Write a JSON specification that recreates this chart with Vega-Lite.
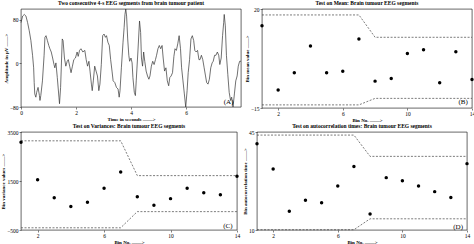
{
  "$schema": "https://vega.github.io/schema/vega-lite/v6.json",
  "padding": 0,
  "background": "white",
  "config": {
    "font": "Liberation Serif",
    "view": {"stroke": "black", "strokeWidth": 0.6},
    "title": {"fontSize": 5.5, "fontWeight": "bold", "offset": 1, "font": "Liberation Serif", "color": "black"},
    "axis": {"labelFontSize": 5.5, "titleFontSize": 5, "titleFontWeight": "bold", "titlePadding": 1, "labelPadding": 1, "tickSize": 2, "tickColor": "black", "tickWidth": 0.5, "domain": false, "grid": false, "labelColor": "black", "titleColor": "black", "labelFont": "Liberation Serif", "titleFont": "Liberation Serif", "labelOverlap": false, "labelFlush": false, "labelBound": false, "labelSeparation": 0},
    "axisX": {"labelOverlap": false},
    "axisY": {"labelOverlap": false},
    "axisQuantitative": {"labelOverlap": false}
  },
  "datasets": {
    "eeg": [
      {"t":0.00,"v":75},{"t":0.06,"v":87},{"t":0.12,"v":90},{"t":0.18,"v":87},{"t":0.24,"v":75},{"t":0.30,"v":60},{"t":0.36,"v":42},{"t":0.42,"v":15},{"t":0.46,"v":-8},{"t":0.48,"v":-35},{"t":0.50,"v":-56},{"t":0.54,"v":-62},{"t":0.57,"v":-53},{"t":0.62,"v":-44},{"t":0.67,"v":-59},{"t":0.69,"v":-68},{"t":0.72,"v":-59},{"t":0.78,"v":-32},{"t":0.84,"v":15},{"t":0.87,"v":48},{"t":0.91,"v":51},{"t":0.96,"v":42},{"t":1.01,"v":33},{"t":1.05,"v":27},{"t":1.10,"v":21},{"t":1.15,"v":10},{"t":1.20,"v":-2},{"t":1.23,"v":-8},{"t":1.27,"v":1},{"t":1.32,"v":-26},{"t":1.38,"v":-62},{"t":1.40,"v":-74},{"t":1.44,"v":-44},{"t":1.50,"v":45},{"t":1.53,"v":42},{"t":1.58,"v":10},{"t":1.63,"v":-5},{"t":1.68,"v":4},{"t":1.72,"v":7},{"t":1.77,"v":-5},{"t":1.82,"v":-17},{"t":1.87,"v":-5},{"t":1.92,"v":7},{"t":1.98,"v":10},{"t":2.04,"v":21},{"t":2.08,"v":13},{"t":2.13,"v":24},{"t":2.18,"v":27},{"t":2.25,"v":21},{"t":2.32,"v":24},{"t":2.37,"v":7},{"t":2.42,"v":-5},{"t":2.47,"v":4},{"t":2.51,"v":-14},{"t":2.56,"v":-38},{"t":2.59,"v":-50},{"t":2.63,"v":-32},{"t":2.68,"v":-5},{"t":2.73,"v":-14},{"t":2.78,"v":-23},{"t":2.83,"v":-50},{"t":2.87,"v":-38},{"t":2.92,"v":-2},{"t":2.97,"v":51},{"t":3.02,"v":54},{"t":3.07,"v":48},{"t":3.11,"v":51},{"t":3.16,"v":39},{"t":3.21,"v":33},{"t":3.26,"v":7},{"t":3.31,"v":-14},{"t":3.35,"v":-32},{"t":3.41,"v":-35},{"t":3.47,"v":-44},{"t":3.53,"v":-47},{"t":3.57,"v":-62},{"t":3.60,"v":-50},{"t":3.65,"v":-8},{"t":3.71,"v":39},{"t":3.75,"v":66},{"t":3.78,"v":90},{"t":3.81,"v":100},{"t":3.84,"v":87},{"t":3.88,"v":45},{"t":3.92,"v":15},{"t":3.95,"v":4},{"t":4.00,"v":10},{"t":4.04,"v":1},{"t":4.07,"v":-26},{"t":4.12,"v":-53},{"t":4.16,"v":-59},{"t":4.19,"v":-32},{"t":4.25,"v":21},{"t":4.31,"v":78},{"t":4.35,"v":57},{"t":4.38,"v":10},{"t":4.42,"v":-5},{"t":4.46,"v":21},{"t":4.50,"v":4},{"t":4.55,"v":-14},{"t":4.60,"v":-23},{"t":4.65,"v":-29},{"t":4.69,"v":-23},{"t":4.74,"v":-5},{"t":4.79,"v":4},{"t":4.84,"v":-2},{"t":4.89,"v":7},{"t":4.93,"v":15},{"t":4.98,"v":27},{"t":5.03,"v":33},{"t":5.08,"v":27},{"t":5.13,"v":33},{"t":5.17,"v":10},{"t":5.22,"v":-14},{"t":5.27,"v":-8},{"t":5.32,"v":-32},{"t":5.37,"v":-41},{"t":5.41,"v":-26},{"t":5.46,"v":-23},{"t":5.51,"v":-17},{"t":5.56,"v":13},{"t":5.60,"v":27},{"t":5.65,"v":24},{"t":5.70,"v":36},{"t":5.75,"v":51},{"t":5.80,"v":27},{"t":5.84,"v":-8},{"t":5.89,"v":-32},{"t":5.94,"v":-56},{"t":5.99,"v":-80},{"t":6.04,"v":-50},{"t":6.08,"v":-17},{"t":6.13,"v":7},{"t":6.18,"v":45},{"t":6.23,"v":51},{"t":6.28,"v":42},{"t":6.32,"v":24},{"t":6.37,"v":21},{"t":6.42,"v":24},{"t":6.47,"v":7},{"t":6.51,"v":7},{"t":6.56,"v":15},{"t":6.61,"v":7},{"t":6.66,"v":-8},{"t":6.71,"v":-23},{"t":6.75,"v":-35},{"t":6.80,"v":-38},{"t":6.85,"v":-29},{"t":6.90,"v":-8},{"t":6.95,"v":1},{"t":6.99,"v":4},{"t":7.04,"v":15},{"t":7.09,"v":15},{"t":7.14,"v":21},{"t":7.19,"v":15},{"t":7.23,"v":-2},{"t":7.28,"v":10},{"t":7.33,"v":51},{"t":7.37,"v":75},{"t":7.39,"v":90},{"t":7.43,"v":69},{"t":7.47,"v":15},{"t":7.52,"v":-20},{"t":7.57,"v":-53},{"t":7.62,"v":-68},{"t":7.66,"v":-62},{"t":7.71,"v":-80},{"t":7.76,"v":-56},{"t":7.81,"v":-32},{"t":7.86,"v":-23},{"t":7.90,"v":-5},{"t":7.95,"v":4},{"t":8.00,"v":4}
    ],
    "meanPts": [
      {"bin":1,"val":14.1},{"bin":2,"val":-8.6},{"bin":3,"val":-2.5},{"bin":4,"val":6.9},{"bin":5,"val":-2.5},{"bin":6,"val":-2.0},{"bin":7,"val":9.4},{"bin":8,"val":-5.5},{"bin":9,"val":-4.6},{"bin":10,"val":4.3},{"bin":11,"val":5.6},{"bin":12,"val":-6.1},{"bin":13,"val":4.9},{"bin":14,"val":-4.9}
    ],
    "meanBnd": [
      {"bin":1,"val":17.9,"b":"upper"},{"bin":7,"val":17.9,"b":"upper"},{"bin":8,"val":10,"b":"upper"},{"bin":14,"val":10,"b":"upper"},
      {"bin":1,"val":-13.9,"b":"lower"},{"bin":7,"val":-13.9,"b":"lower"},{"bin":8,"val":-11.6,"b":"lower"},{"bin":14,"val":-11.6,"b":"lower"}
    ],
    "varPts": [
      {"bin":1,"val":3080},{"bin":2,"val":1550},{"bin":3,"val":820},{"bin":4,"val":460},{"bin":5,"val":630},{"bin":6,"val":1200},{"bin":7,"val":1870},{"bin":8,"val":860},{"bin":9,"val":510},{"bin":10,"val":780},{"bin":11,"val":1200},{"bin":12,"val":1020},{"bin":13,"val":940},{"bin":14,"val":1690}
    ],
    "varBnd": [
      {"bin":1,"val":3140,"b":"upper"},{"bin":7,"val":3140,"b":"upper"},{"bin":8,"val":1720,"b":"upper"},{"bin":14,"val":1720,"b":"upper"},
      {"bin":1,"val":-410,"b":"lower"},{"bin":7,"val":-410,"b":"lower"},{"bin":8,"val":250,"b":"lower"},{"bin":14,"val":250,"b":"lower"}
    ],
    "acfPts": [
      {"bin":1,"val":40.8},{"bin":2,"val":31.8},{"bin":3,"val":16.7},{"bin":4,"val":20.6},{"bin":5,"val":19.7},{"bin":6,"val":25.7},{"bin":7,"val":32.7},{"bin":8,"val":15.7},{"bin":9,"val":28.7},{"bin":10,"val":27.6},{"bin":11,"val":25.7},{"bin":12,"val":23.7},{"bin":13,"val":21.6},{"bin":14,"val":33.7}
    ],
    "acfBnd": [
      {"bin":1,"val":43.9,"b":"upper"},{"bin":7,"val":43.9,"b":"upper"},{"bin":8,"val":36.3,"b":"upper"},{"bin":14,"val":36.3,"b":"upper"},
      {"bin":1,"val":10.1,"b":"lower"},{"bin":7,"val":10.1,"b":"lower"},{"bin":8,"val":14.0,"b":"lower"},{"bin":14,"val":14.0,"b":"lower"}
    ],
    "labA": [{"t":7.55,"v":-70,"lab":"(A)"}],
    "labB": [{"bin":13.45,"val":-12.9,"lab":"(B)"}],
    "labC": [{"bin":13.45,"val":-330,"lab":"(C)"}],
    "labD": [{"bin":13.45,"val":10.9,"lab":"(D)"}]
  },
  "vconcat": [
    {
      "hconcat": [
        {
          "title": "Two consecutive 4-s EEG segments from brain tumour patient",
          "width": 220, "height": 98,
          "layer": [
            {
              "data": {"name": "eeg"},
              "mark": {"type": "line", "color": "#333333", "strokeWidth": 0.7},
              "encoding": {
                "x": {"field": "t", "type": "quantitative", "scale": {"domain": [0, 8], "nice": false}, "axis": {"values": [0,1,2,3,4,5,6,7], "title": "Time in seconds ——>", "labelOverlap": false, "labelFlush": false}},
                "y": {"field": "v", "type": "quantitative", "scale": {"domain": [-80, 100], "nice": false}, "axis": {"values": [-80,-60,-40,-20,0,20,40,60,80,100], "title": "Amplitude in μV ——>", "labelOverlap": false, "labelFlush": false}}
              }
            },
            {
              "data": {"name": "labA"},
              "mark": {"type": "text", "fontSize": 7, "font": "Liberation Serif", "color": "black"},
              "encoding": {"x": {"field": "t", "type": "quantitative"}, "y": {"field": "v", "type": "quantitative"}, "text": {"field": "lab"}}
            }
          ]
        },
        {
          "title": "Test on Mean: Brain tumour EEG segments",
          "width": 210, "height": 99,
          "layer": [
            {
              "data": {"name": "meanBnd"},
              "mark": {"type": "line", "color": "#444444", "strokeWidth": 0.7, "strokeDash": [2, 1.5]},
              "encoding": {
                "x": {"field": "bin", "type": "quantitative", "scale": {"domain": [1, 14], "nice": false}, "axis": {"values": [2,4,6,8,10,12,14], "title": "Bin No. ——>", "labelOverlap": false, "labelFlush": false}},
                "y": {"field": "val", "type": "quantitative", "scale": {"domain": [-15, 20], "nice": false}, "axis": {"values": [-15,-10,-5,0,5,10,15,20], "title": "Bin mean value ——>", "labelOverlap": false, "labelFlush": false}},
                "detail": {"field": "b"}
              }
            },
            {
              "data": {"name": "meanPts"},
              "mark": {"type": "circle", "color": "black", "opacity": 1, "size": 12},
              "encoding": {"x": {"field": "bin", "type": "quantitative"}, "y": {"field": "val", "type": "quantitative"}}
            },
            {
              "data": {"name": "labB"},
              "mark": {"type": "text", "fontSize": 7, "font": "Liberation Serif", "color": "black"},
              "encoding": {"x": {"field": "bin", "type": "quantitative"}, "y": {"field": "val", "type": "quantitative"}, "text": {"field": "lab"}}
            }
          ]
        }
      ],
      "spacing": 1
    },
    {
      "hconcat": [
        {
          "title": "Test on Variances: Brain tumour EEG segments",
          "width": 216, "height": 98,
          "layer": [
            {
              "data": {"name": "varBnd"},
              "mark": {"type": "line", "color": "#444444", "strokeWidth": 0.7, "strokeDash": [2, 1.5]},
              "encoding": {
                "x": {"field": "bin", "type": "quantitative", "scale": {"domain": [1, 14], "nice": false}, "axis": {"values": [2,4,6,8,10,12,14], "title": "Bin No. ——>", "labelOverlap": false, "labelFlush": false}},
                "y": {"field": "val", "type": "quantitative", "scale": {"domain": [-500, 3500], "nice": false}, "axis": {"values": [-500,0,500,1000,1500,2000,2500,3000,3500], "format": "d", "title": "Bin variance values ——>", "labelOverlap": false, "labelFlush": false}},
                "detail": {"field": "b"}
              }
            },
            {
              "data": {"name": "varPts"},
              "mark": {"type": "circle", "color": "black", "opacity": 1, "size": 12},
              "encoding": {"x": {"field": "bin", "type": "quantitative"}, "y": {"field": "val", "type": "quantitative"}}
            },
            {
              "data": {"name": "labC"},
              "mark": {"type": "text", "fontSize": 7, "font": "Liberation Serif", "color": "black"},
              "encoding": {"x": {"field": "bin", "type": "quantitative"}, "y": {"field": "val", "type": "quantitative"}, "text": {"field": "lab"}}
            }
          ]
        },
        {
          "title": "Test on autocorrelation times: Brain tumour EEG segments",
          "width": 210, "height": 98,
          "layer": [
            {
              "data": {"name": "acfBnd"},
              "mark": {"type": "line", "color": "#444444", "strokeWidth": 0.7, "strokeDash": [2, 1.5]},
              "encoding": {
                "x": {"field": "bin", "type": "quantitative", "scale": {"domain": [1, 14], "nice": false}, "axis": {"values": [2,4,6,8,10,12,14], "title": "Bin No. ——>", "labelOverlap": false, "labelFlush": false}},
                "y": {"field": "val", "type": "quantitative", "scale": {"domain": [10, 45], "nice": false}, "axis": {"values": [10,15,20,25,30,35,40,45], "title": "Bin autocorrelation time ——>", "labelOverlap": false, "labelFlush": false}},
                "detail": {"field": "b"}
              }
            },
            {
              "data": {"name": "acfPts"},
              "mark": {"type": "circle", "color": "black", "opacity": 1, "size": 12},
              "encoding": {"x": {"field": "bin", "type": "quantitative"}, "y": {"field": "val", "type": "quantitative"}}
            },
            {
              "data": {"name": "labD"},
              "mark": {"type": "text", "fontSize": 7, "font": "Liberation Serif", "color": "black"},
              "encoding": {"x": {"field": "bin", "type": "quantitative"}, "y": {"field": "val", "type": "quantitative"}, "text": {"field": "lab"}}
            }
          ]
        }
      ],
      "spacing": 1
    }
  ],
  "spacing": 0
}
